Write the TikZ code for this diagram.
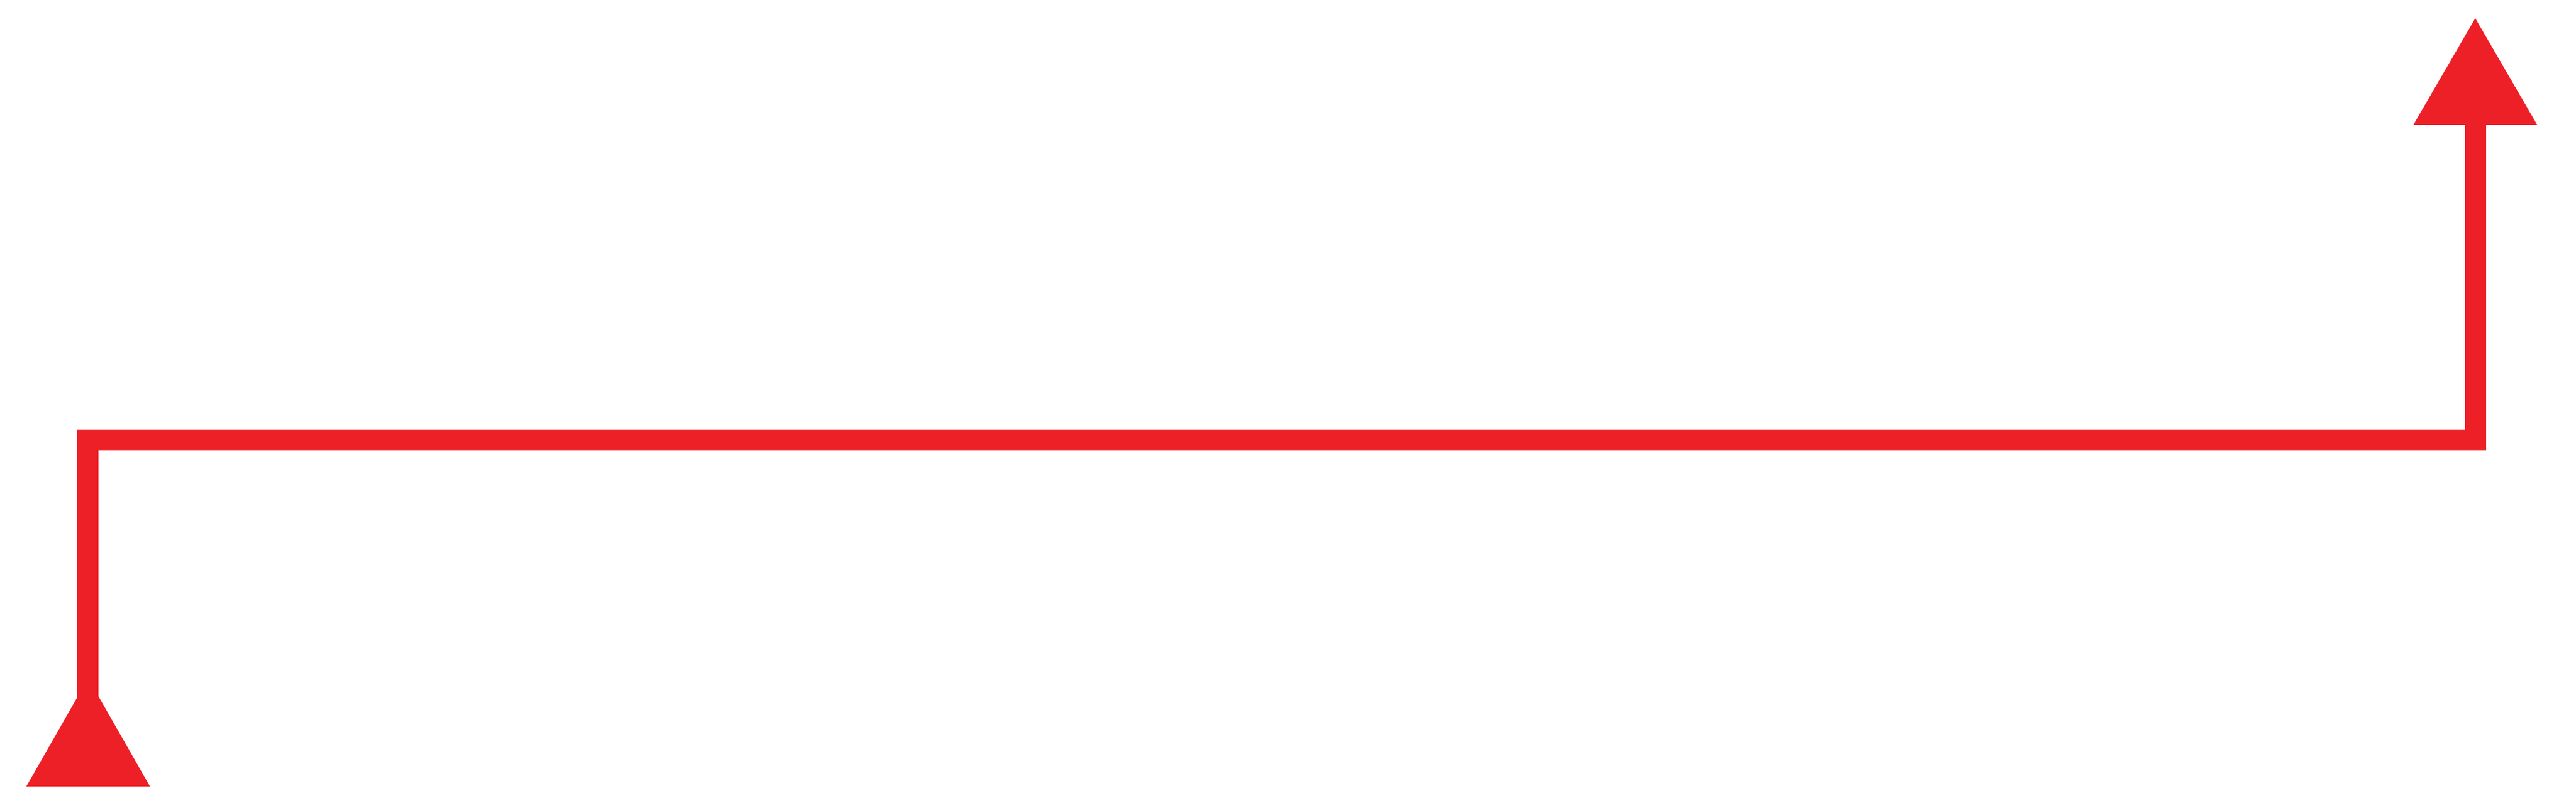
\documentclass[tikz,border=0pt]{standalone}
\usepackage{tikz}
\definecolor{signred}{HTML}{ED2027}
\tikzset{redline/.style={draw=signred, line width=0.37cm, line join=miter, line cap=butt}}

\begin{document}
\begin{tikzpicture}
			%%%%% START %%%%%
			\useasboundingbox (0, 0) rectangle (45, 14.15);
			
			\coordinate (foot) at (1.535, 1.8);
			\coordinate (bend1) at (1.535, 6.46);
			\coordinate (bend2) at (43.24, 6.46);
			\coordinate (tip) at (43.24, 11.97);
			
			\draw[redline] (foot) -- (bend1) -- (bend2) -- (tip);
			
			\fill[signred] (0.46, 0.41) -- (1.54, 2.30) -- (2.62, 0.41) -- cycle;
			\fill[signred] (42.16, 11.97) -- (43.24, 13.83) -- (44.32, 11.97) -- cycle;
			%%%%% END %%%%%
		\end{tikzpicture}
\end{document}
